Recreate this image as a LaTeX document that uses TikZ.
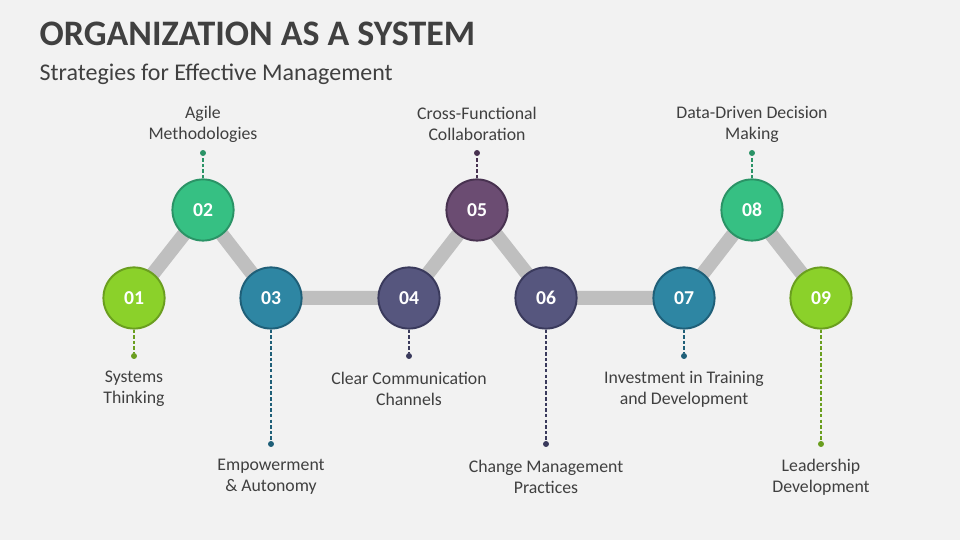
\documentclass[tikz,border=0pt]{standalone}
\usepackage{fontspec}
\setmainfont{Carlito}
\usetikzlibrary{backgrounds}
\definecolor{bg}{HTML}{F2F2F2}
\definecolor{txt}{HTML}{404040}
\definecolor{conn}{HTML}{BFBFBF}
\definecolor{limeF}{HTML}{8BD12A}\definecolor{limeD}{HTML}{6A9E1F}
\definecolor{mintF}{HTML}{36C083}\definecolor{mintD}{HTML}{2A9366}
\definecolor{tealF}{HTML}{2E86A3}\definecolor{tealD}{HTML}{1F5F78}
\definecolor{slateF}{HTML}{56567E}\definecolor{slateD}{HTML}{3A3A5C}
\definecolor{plumF}{HTML}{6B4C72}\definecolor{plumD}{HTML}{483250}
\tikzset{
  numc/.style 2 args={circle, minimum size=17.4pt, inner sep=0, fill=#1, draw=#2, line width=0.55pt,
    text=white, font=\fontsize{5.6pt}{6pt}\selectfont\bfseries},
  link/.style={draw=conn, line width=14*0.2845pt},
  lead/.style={draw=#1, line width=0.3pt, dash pattern=on 1pt off 0.6pt},
  dotn/.style={circle, fill=#1, inner sep=0, minimum size=1.7pt},
  lbl/.style={text=txt, align=center, inner sep=0, font=\fontsize{5.05pt}{5.95pt}\selectfont},
}
\begin{document}
\begin{tikzpicture}[x=0.01cm, y=-0.01cm]
\useasboundingbox (0,0) rectangle (960,540);
% title
\node[anchor=base west, inner sep=0, text=txt, font=\fontsize{10.2pt}{12pt}\selectfont\bfseries] (title) at (39,46) {ORGANIZATION AS A SYSTEM};
\node[anchor=base west, inner sep=0, text=txt, font=\fontsize{6.82pt}{8pt}\selectfont] (sub) at (39,81) {Strategies for Effective Management};
% circles
\node[numc={limeF}{limeD}] (c1) at (134,298) {01};
\node[numc={mintF}{mintD}] (c2) at (203,210) {02};
\node[numc={tealF}{tealD}] (c3) at (271,298) {03};
\node[numc={slateF}{slateD}] (c4) at (409,298) {04};
\node[numc={plumF}{plumD}] (c5) at (477,210) {05};
\node[numc={slateF}{slateD}] (c6) at (546,298) {06};
\node[numc={tealF}{tealD}] (c7) at (684,298) {07};
\node[numc={mintF}{mintD}] (c8) at (752,210) {08};
\node[numc={limeF}{limeD}] (c9) at (821,298) {09};
% dots
\node[dotn=limeD] (d1) at (134,356) {};
\node[dotn=mintD] (d2) at (203,153) {};
\node[dotn=tealD] (d3) at (271,444) {};
\node[dotn=slateD] (d4) at (409,356) {};
\node[dotn=plumD] (d5) at (477,153) {};
\node[dotn=slateD] (d6) at (546,444) {};
\node[dotn=tealD] (d7) at (684,356) {};
\node[dotn=mintD] (d8) at (752,153) {};
\node[dotn=limeD] (d9) at (821,444) {};
% labels
\node[lbl] (l1) at (134,389) {Systems\\Thinking};
\node[lbl] (l2) at (203,124) {Agile\\Methodologies};
\node[lbl] (l3) at (271,477) {Empowerment\\\& Autonomy};
\node[lbl] (l4) at (409,389) {Clear Communication\\Channels};
\node[lbl] (l5) at (477,124) {Cross-Functional\\Collaboration};
\node[lbl] (l6) at (546,477) {Change Management\\Practices};
\node[lbl] (l7) at (684,389) {Investment in Training\\and Development};
\node[lbl] (l8) at (752,124) {Data-Driven Decision\\Making};
\node[lbl] (l9) at (821,477) {Leadership\\Development};
\begin{pgfonlayer}{background}
\fill[bg] (0,0) rectangle (960,540);
\draw[link] (c1.center) -- (c2.center) -- (c3.center) -- (c4.center) -- (c5.center) -- (c6.center) -- (c7.center) -- (c8.center) -- (c9.center);
\draw[lead=limeD] (c1) -- (d1);
\draw[lead=mintD] (c2) -- (d2);
\draw[lead=tealD] (c3) -- (d3);
\draw[lead=slateD] (c4) -- (d4);
\draw[lead=plumD] (c5) -- (d5);
\draw[lead=slateD] (c6) -- (d6);
\draw[lead=tealD] (c7) -- (d7);
\draw[lead=mintD] (c8) -- (d8);
\draw[lead=limeD] (c9) -- (d9);
\end{pgfonlayer}
\end{tikzpicture}
\end{document}
